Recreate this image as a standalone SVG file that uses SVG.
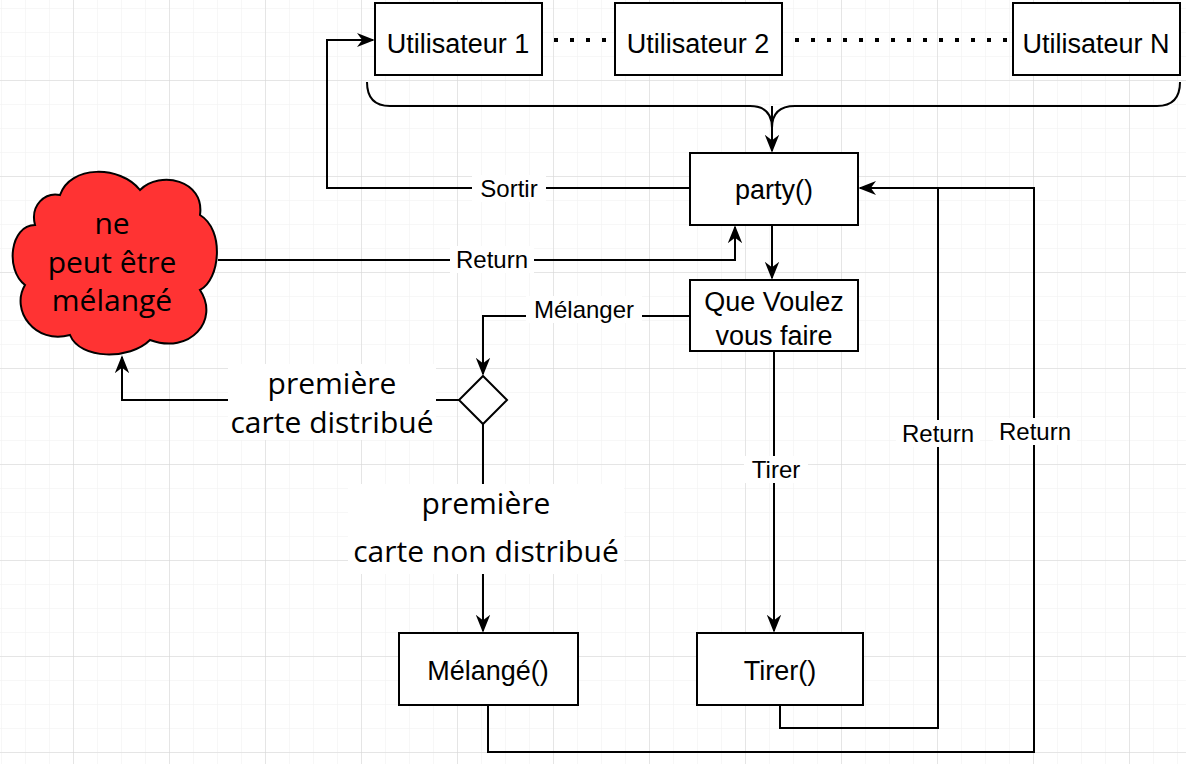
<svg xmlns="http://www.w3.org/2000/svg" width="1186" height="764" viewBox="0 0 1186 764">
<defs>
<pattern id="minor" x="1" y="8" width="24" height="24" patternUnits="userSpaceOnUse"><path d="M0 0H24M0 0V24" fill="none" stroke="#efefef" stroke-width="1"/></pattern>
<pattern id="major" x="73" y="80" width="96" height="96" patternUnits="userSpaceOnUse"><path d="M0 0H96M0 0V96" fill="none" stroke="#d4d4d4" stroke-width="1"/></pattern>
<marker id="ar" viewBox="0 0 10 10" refX="9" refY="5" markerWidth="18" markerHeight="18" orient="auto" markerUnits="userSpaceOnUse"><path d="M0 1L10 5L0 9L3 5Z" fill="#000"/></marker>
</defs>
<style>
.box{fill:#fff;stroke:#000;stroke-width:2}
.t{font-family:"Liberation Sans",Arial,sans-serif;font-size:27px;fill:#000;text-anchor:middle}
.l{font-family:"Liberation Sans",Arial,sans-serif;font-size:24px;fill:#000;text-anchor:middle}
.big{font-family:"Open Sans","DejaVu Sans",sans-serif;font-size:30px;fill:#000;text-anchor:middle}
.c{fill:none;stroke:#000;stroke-width:2}
.a{marker-end:url(#ar)}
</style>
<rect width="1186" height="764" fill="#fff"/>
<rect width="1186" height="764" fill="url(#minor)"/>
<rect width="1186" height="764" fill="url(#major)"/>
<g id="connectors">
<path d="M554 40H614M795 40H1012" fill="none" stroke="#000" stroke-width="4" stroke-dasharray="4 12"/>
<path class="c" d="M367 82Q367 106 390 106H750Q772 106 772 128M1180 82Q1180 106 1157 106H795Q772 106 772 128"/>
<path class="c a" d="M772 106V151"/>
<path class="c a" d="M690 188H327V40H373"/>
<path class="c a" d="M218 260H735V227"/>
<path class="c a" d="M772 225V278"/>
<path class="c a" d="M690 316H483V374"/>
<path class="c a" d="M459 400H122V357"/>
<path class="c a" d="M483 424V631"/>
<path class="c a" d="M774 351V631"/>
<path class="c a" d="M780 705V728H938V188H860"/>
<path class="c" d="M488 705V752H1034V188H938"/>
<rect x="472" y="175" width="74" height="27" fill="#fff"/><text class="l" x="509" y="197">Sortir</text>
<rect x="450" y="246" width="84" height="27" fill="#fff"/><text class="l" x="492" y="268">Return</text>
<rect x="526" y="296" width="116" height="27" fill="#fff"/><text class="l" x="584" y="318">Mélanger</text>
<rect x="228" y="364" width="208" height="76" fill="#fff"/><text class="big" x="332" y="394">première</text><text class="big" x="332" y="433">carte distribué</text>
<rect x="348" y="484" width="276" height="90" fill="#fff"/><text class="big" x="486" y="514">première</text><text class="big" x="486" y="562">carte non distribué</text>
<rect x="744" y="456" width="64" height="27" fill="#fff"/><text class="l" x="776" y="478">Tirer</text>
<rect x="896" y="420" width="84" height="27" fill="#fff"/><text class="l" x="938" y="442">Return</text>
<rect x="993" y="418" width="84" height="27" fill="#fff"/><text class="l" x="1035" y="440">Return</text>
</g>
<g id="u1"><rect class="box" x="375" y="3" width="167" height="72"/><text class="t" x="458" y="53">Utilisateur 1</text></g>
<g id="u2"><rect class="box" x="615" y="3" width="167" height="72"/><text class="t" x="698" y="53">Utilisateur 2</text></g>
<g id="un"><rect class="box" x="1013" y="3" width="167" height="72"/><text class="t" x="1096" y="53">Utilisateur N</text></g>
<g id="party"><rect class="box" x="690" y="153" width="168" height="72"/><text class="t" x="774" y="199">party()</text></g>
<g id="que"><rect class="box" x="690" y="280" width="168" height="71"/><text class="t" x="774" y="311">Que Voulez</text><text class="t" x="774" y="345">vous faire</text></g>
<g id="diamond"><path class="box" d="M483 376L507 400L483 424L459 400Z"/></g>
<g id="melange"><rect class="box" x="399" y="633" width="179" height="72"/><text class="t" x="488" y="680">Mélangé()</text></g>
<g id="tirer"><rect class="box" x="697" y="633" width="166" height="72"/><text class="t" x="780" y="680">Tirer()</text></g>
<g id="cloud"><path d="M60 195C70 165 120 165 140 190C160 170 205 180 200 215C225 230 220 280 200 290C220 320 190 355 150 340C130 360 80 360 70 335C35 345 10 310 25 285C5 270 10 225 35 225C30 205 45 192 60 195Z" fill="#ff3333" stroke="#000" stroke-width="2"/>
<text class="big" x="112" y="234">ne</text><text class="big" x="112" y="273">peut être</text><text class="big" x="112" y="311">mélangé</text></g>
</svg>
